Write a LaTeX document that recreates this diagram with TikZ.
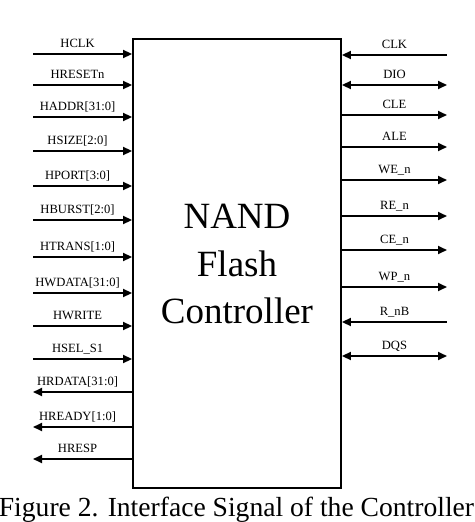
\documentclass[tikz,border=0pt]{standalone}
\usepackage{fontspec}
\setmainfont{Liberation Serif}
\usetikzlibrary{arrows.meta}

\begin{document}
\begin{tikzpicture}[x=1pt,y=-1pt,line width=1.9pt,
  >={Triangle[length=9pt,width=8pt]},
  lbl/.style={anchor=base,yshift=6.5pt,inner sep=0pt,font=\fontsize{12.6}{14}\selectfont},
  big/.style={anchor=base,inner sep=0pt,font=\fontsize{37}{44}\selectfont}]
\useasboundingbox (0,0) rectangle (474,522);

% controller block
\node[draw,minimum width=208pt,minimum height=449pt,inner sep=0pt] (ctrl) at (237,263.5) {};
\node[big] (nand) at (237,228) {NAND};
\node[big] (flash) at (237,276) {Flash};
\node[big] (contr) at (237,323) {Controller};

% AHB side
\foreach \y/\name/\dir [count=\i] in {54/HCLK/->,85/HRESETn/->,117/HADDR[31:0]/->,
    151/HSIZE[2:0]/->,186/HPORT[3:0]/->,220/HBURST[2:0]/->,257/HTRANS[1:0]/->,
    293/HWDATA[31:0]/->,326/HWRITE/->,359/HSEL\_S1/->,392/HRDATA[31:0]/<-,
    427/HREADY[1:0]/<-,459/HRESP/<-}{
  \coordinate (L\i) at (33,\y);
  \draw[\dir] (L\i) -- node[lbl,pos=.45] {\name} (L\i -| ctrl.west);
}

% flash side
\foreach \y/\name/\dir [count=\i] in {55/CLK/<-,85/DIO/<->,115/CLE/->,147/ALE/->,
    180/WE\_n/->,216/RE\_n/->,250/CE\_n/->,287/WP\_n/->,322/R\_nB/<-,356/DQS/<->}{
  \coordinate (R\i) at (447,\y);
  \draw[\dir] (R\i -| ctrl.east) -- node[lbl,pos=.5] {\name} (R\i);
}

\node[anchor=base,inner sep=0pt,font=\fontsize{27.6}{30}\selectfont] (cap) at (236.5,516)
  {Figure 2. Interface Signal of the Controller};
\end{tikzpicture}
\end{document}
